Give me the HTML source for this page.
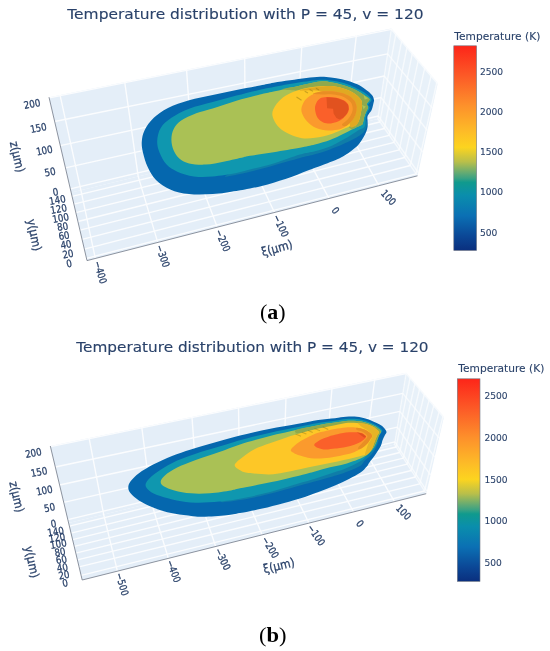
<!DOCTYPE html>
<html lang="en"><head><meta charset="utf-8"><title>Temperature distribution</title>
<style>html,body{margin:0;padding:0;background:#fff}svg{display:block}svg text.t{stroke:#2a426a;stroke-width:.28px}</style></head>
<body>
<svg width="550" height="651" viewBox="0 0 550 651" font-family='"DejaVu Sans", "Liberation Sans", sans-serif' fill="#2a426a">
<defs><linearGradient id="cb" x1="0" y1="0" x2="0" y2="1">
<stop offset="0" stop-color="#fd2519"/>
<stop offset="0.15" stop-color="#fc5b27"/>
<stop offset="0.29" stop-color="#fd902b"/>
<stop offset="0.42" stop-color="#fdbc27"/>
<stop offset="0.496" stop-color="#fcd41f"/>
<stop offset="0.567" stop-color="#b9bf4a"/>
<stop offset="0.628" stop-color="#58a878"/>
<stop offset="0.647" stop-color="#3aa283"/>
<stop offset="0.667" stop-color="#109a8d"/>
<stop offset="0.729" stop-color="#0a8eac"/>
<stop offset="0.83" stop-color="#0b70b4"/>
<stop offset="0.93" stop-color="#0b4796"/>
<stop offset="1" stop-color="#0a2f7e"/>
</linearGradient></defs>
<rect width="550" height="651" fill="#ffffff"/>
<g id="plot-a">
<path d="M49,97.2 L391.4,28.6 L377.8,119 L71.2,192.5Z" fill="#e4eef8"/>
<path d="M71.2,192.5 L377.8,119 L417.5,175.8 L87,260.6Z" fill="#e4eef8"/>
<path d="M391.4,28.6 L437.8,83 L417.5,175.8 L377.8,119Z" fill="#e4eef8" opacity="0.85"/>
<g fill="none" stroke="#ffffff" stroke-width="1.35" stroke-linejoin="round" opacity="0.86"><path d="M49.2,97.9 L391.3,29.3"/><path d="M391.3,29.3 L437.6,83.8" opacity="0.75"/><path d="M54.7,121.5 L387.6,53.9"/><path d="M387.6,53.9 L432.3,108" opacity="0.75"/><path d="M60.3,145.6 L384.3,76"/><path d="M384.3,76 L427.4,130.5" opacity="0.75"/><path d="M65.4,167.8 L381,97.5"/><path d="M381,97.5 L422.7,152" opacity="0.75"/><path d="M70.3,188.9 L378.3,116"/><path d="M378.3,116 L418.2,172.5" opacity="0.75"/><path d="M72.1,196.4 L379.9,122"/><path d="M379.9,122 L395.8,33.8" opacity="0.75"/><path d="M73.9,204.1 L384.4,128.5"/><path d="M384.4,128.5 L401.7,40.7" opacity="0.75"/><path d="M75.9,212.7 L389.2,135.3"/><path d="M389.2,135.3 L407.1,47" opacity="0.75"/><path d="M77.9,221.5 L394.2,142.4"/><path d="M394.2,142.4 L412.4,53.2" opacity="0.75"/><path d="M79.9,230.2 L399.3,149.8"/><path d="M399.3,149.8 L418.3,60.1" opacity="0.75"/><path d="M82.1,239.4 L404.7,157.5"/><path d="M404.7,157.5 L424.8,67.7" opacity="0.75"/><path d="M84.3,249.1 L410.3,165.5"/><path d="M410.3,165.5 L431.2,75.3" opacity="0.75"/><path d="M86.5,258.3 L416.1,173.8"/><path d="M416.1,173.8 L436.9,82" opacity="0.75"/><path d="M60,94.9 L80.9,190.2 L95.3,258.4"/><path d="M124.7,81.9 L138.2,176.4 L157.5,241.6"/><path d="M186.5,69.4 L193.2,163.2 L217,226.4"/><path d="M244.7,57.7 L245.3,150.8 L274.5,212.5"/><path d="M301.8,46.2 L296.7,138.4 L329,198.4"/><path d="M356.4,35.2 L346,126.6 L379.3,186.4"/><path d="M391.4,28.6 L377.8,119 L417.5,175.8" opacity="0.6"/></g>
<path d="M49,97.2 L87,260.6 L417.5,175.8" fill="none" stroke="#6a7180" stroke-width="0.75"/>
<path d="M141.8,141.5 C142.1,137.8 142.6,134.1 144.6,130.2 C146.6,126.2 149.9,121.5 153.8,117.8 C157.7,114.1 162.1,110.8 168,107.9 C173.9,105 181.7,102.5 189.1,100.3 C196.5,98.1 204.8,96.7 212.7,95 C220.6,93.3 228.5,91.7 236.4,90.1 C244.3,88.5 253.8,86.7 260,85.5 C266.2,84.3 268.6,83.7 273.6,82.8 C278.6,81.9 284.5,81.1 290,80.3 C295.5,79.5 301.4,78.6 306.4,78 C311.4,77.4 315.9,76.9 320,76.8 C324.1,76.7 327.3,77 330.9,77.4 C334.5,77.8 338.2,78.5 341.8,79.3 C345.4,80.1 349.4,81.3 352.7,82.5 C356,83.7 358.8,84.9 361.4,86.4 C363.9,87.9 366.2,89.8 368,91.3 C369.8,92.8 371.3,94.1 372.3,95.6 C373.3,97 373.8,98.8 374,100 C374.2,101.2 373.7,101.9 373.5,103 C373.3,104.1 373,105.3 372.7,106.5 C372.4,107.7 372.2,108.8 371.6,110 C371,111.2 369.7,112.6 369,113.8 C368.3,115 367.6,115.7 367.4,116.9 C367.2,118.2 367.6,119.6 367.6,121.3 C367.6,123 367.9,125.1 367.5,127.3 C367.1,129.5 366.4,131.7 365,134.5 C363.6,137.3 361.2,141.3 359,144 C356.8,146.7 354.2,148.6 351.8,150.5 C349.4,152.4 346.9,154.1 344.5,155.6 C342.1,157.1 341.1,157.7 337.3,159.3 C333.5,161 326.2,163.7 321.5,165.5 C316.8,167.3 313.1,168.5 309.1,170 C305.1,171.5 301.2,173.2 297.3,174.7 C293.4,176.2 289.4,177.8 285.5,179.1 C281.6,180.4 277.6,181.5 273.6,182.7 C269.7,183.8 265.7,185 261.8,186 C257.9,187 254.2,187.7 250,188.5 C245.8,189.3 242.6,190.1 236.4,191 C230.2,191.9 220.6,193.6 212.7,194.1 C204.8,194.6 196.2,194.9 189.1,194.1 C182,193.3 175.7,191.8 170.2,189.4 C164.7,187 159.8,183.7 156,179.9 C152.2,176.2 149.9,171.4 147.7,166.9 C145.5,162.4 144,156.9 143,152.7 C142,148.5 141.5,145.2 141.8,141.5Z" fill="#0567ae"/>
<path d="M225,176.5 C225,177.6 241.9,173.6 250,171.8 C258.1,170 265.3,167.8 273.6,165.5 C281.9,163.2 293.1,159.9 300,158 C306.9,156.1 310,155.7 315,154.3 C320,152.9 324.2,151.7 330,149.5 C335.8,147.3 344.7,143.6 350,141 C355.3,138.4 359.3,136.1 362,133.8 C364.7,131.6 365.6,129.6 366.3,127.5 C367.1,125.4 367.4,122.2 366.5,121 C365.6,119.8 363.9,118.5 361,120 C358.1,121.5 354.2,126.7 349,130 C343.8,133.3 338.2,136.7 330,140 C321.8,143.3 309.4,147 300,150 C290.6,153 281.9,155.5 273.6,158 C265.3,160.5 258.1,161.9 250,165 C241.9,168.1 225,175.4 225,176.5Z" fill="#0f7da8"/>
<path d="M157.2,140.9 C157.4,136.8 158.3,131.8 160.7,127.9 C163.1,124.1 166.7,121 171.4,117.8 C176.1,114.6 182.2,111.3 189.1,108.7 C196,106.1 204.8,104.2 212.7,102 C220.6,99.8 228.5,97.6 236.4,95.6 C244.3,93.6 253.8,91.2 260,89.8 C266.2,88.4 267.4,88.2 273.6,87 C279.8,85.8 289.6,84 297.3,82.8 C305,81.6 314.4,80.2 320,79.8 C325.6,79.4 327.3,80 330.9,80.4 C334.5,80.9 338.2,81.5 341.8,82.5 C345.4,83.5 349.4,85 352.7,86.4 C356,87.8 359,89.4 361.4,90.7 C363.8,92 365.2,93.1 366.9,94.5 C368.5,95.9 370.7,97.7 371.3,98.9 C371.9,100.1 371.2,100.6 370.7,101.6 C370.1,102.6 368.2,103.9 368,104.9 C367.8,105.9 369.7,106.3 369.6,107.6 C369.5,108.9 368,111 367.4,112.5 C366.8,114 366.1,115.3 365.8,116.9 C365.5,118.5 365.6,120.6 365.3,122.3 C365,124 365.4,125.9 364.2,127.3 C363,128.7 360.4,129.1 358,130.5 C355.6,131.9 353.3,133.8 350,135.8 C346.7,137.8 341.3,140.8 338,142.6 C334.7,144.4 333.8,145.1 330,146.6 C326.2,148.1 320,150 315,151.3 C310,152.6 306.9,152.6 300,154.6 C293.1,156.6 281.9,161 273.6,163.5 C265.3,166 256.2,168 250,169.6 C243.8,171.2 242.6,171.8 236.4,173 C230.2,174.2 219.8,175.9 212.7,176.5 C205.6,177.1 199.7,177.2 193.8,176.4 C187.9,175.6 181.8,173.7 177.3,171.7 C172.8,169.7 169.6,167.8 166.6,164.6 C163.6,161.4 161.2,156.6 159.6,152.7 C158,148.8 157,145 157.2,140.9Z" fill="#0f97af"/>
<path d="M171.4,139.7 C171.4,136.1 172.1,132.2 173.7,129.1 C175.3,125.9 177.1,123.4 180.8,120.8 C184.6,118.2 190.9,115.3 196.2,113.3 C201.5,111.3 206,110.7 212.7,108.6 C219.4,106.5 228.5,103.1 236.4,100.8 C244.3,98.5 253.8,96.1 260,94.6 C266.2,93.1 267.4,93 273.6,91.6 C279.8,90.2 289.6,87.9 297.3,86.2 C305,84.5 314.4,82.2 320,81.5 C325.6,80.8 327.3,81.7 330.9,82.2 C334.5,82.7 338.2,83.7 341.8,84.7 C345.4,85.8 349.6,87.2 352.7,88.5 C355.8,89.8 358.1,91.1 360.3,92.4 C362.5,93.7 364.2,95 365.8,96.2 C367.4,97.4 369.4,98.1 369.6,99.4 C369.8,100.7 367.2,102.4 366.9,103.8 C366.6,105.2 368.2,106.1 368,107.6 C367.8,109 366.4,111 365.8,112.5 C365.2,114 364.6,115.3 364.2,116.9 C363.8,118.5 363.5,121 363.1,122.3 C362.7,123.6 363.1,124 362,124.8 C360.9,125.6 358.5,126.3 356.5,127.3 C354.5,128.3 352.8,129.2 350,130.6 C347.2,132 343.3,134 340,135.6 C336.7,137.2 334.2,138.5 330,140 C325.8,141.5 320,143.3 315,144.6 C310,145.9 306.9,146.5 300,147.8 C293.1,149.1 281.9,150.9 273.6,152.2 C265.3,153.5 255,155 250,155.8 C245,156.6 247.7,156.3 243.5,157.2 C239.3,158.1 230.9,160.2 224.6,161.4 C218.3,162.6 211.6,164.3 205.7,164.6 C199.8,164.9 193.4,164.4 189.1,163.4 C184.8,162.4 182.2,160.9 179.6,158.7 C177,156.5 175.1,153.6 173.7,150.4 C172.3,147.2 171.4,143.2 171.4,139.7Z" fill="#aac155"/>
<path d="M283,89.5 C280.9,88.5 291.1,87.5 297.3,86.2 C303.5,84.9 314.4,82.2 320,81.5 C325.6,80.8 327.3,81.7 330.9,82.2 C334.5,82.7 338.2,83.7 341.8,84.7 C345.4,85.8 349.6,87.2 352.7,88.5 C355.8,89.8 358.1,91.1 360.3,92.4 C362.5,93.7 364.2,95 365.8,96.2 C367.4,97.4 369.4,98.1 369.6,99.4 C369.8,100.7 367.2,102.4 366.9,103.8 C366.6,105.2 368.2,106.1 368,107.6 C367.8,109 366.4,111 365.8,112.5 C365.2,114 364.6,115.3 364.2,116.9 C363.8,118.5 363.5,121 363.1,122.3 C362.7,123.6 363.1,124 362,124.8 C360.9,125.6 358.3,126.6 356.5,127.3 C354.7,128 352.9,130.2 351,129 C349.1,127.8 346.8,124.8 345,120 C343.2,115.2 345.8,104.7 340,100 C334.2,95.3 319.5,93.8 310,92 C300.5,90.2 285.1,90.5 283,89.5Z" fill="#8fa94c"/>
<path d="M363.6,95.1 L368,98.4 L364.7,99.5Z" fill="#a9c458"/>
<path d="M362,104.9 L365.8,106.5 L363.6,109.3Z" fill="#a9c458"/>
<path d="M353.8,122.3 L357.1,124.5 L354.9,126.7Z" fill="#a9c458"/>
<path d="M272.3,114.5 C272,110.8 274.1,107.4 276.3,104.3 C278.5,101.2 282,98.1 285.5,95.8 C289,93.5 293.4,91.9 297.3,90.5 C301.2,89.1 305.2,88.2 309,87.5 C312.8,86.8 316.4,86.4 320,86.2 C323.6,86 327.3,85.8 330.9,86.1 C334.5,86.4 338.5,87.1 341.8,88 C345.1,88.9 347.9,90 350.5,91.3 C353.1,92.6 355.3,94.1 357.1,95.6 C358.9,97.1 360.6,98.8 361.4,100.5 C362.2,102.2 362.1,104 362,106 C361.9,108 361.3,110.5 360.9,112.5 C360.5,114.5 360.4,116.2 359.8,118 C359.2,119.8 358.7,122.1 357.1,123.5 C355.5,124.9 353.2,125 350,126.3 C346.8,127.6 341.3,130.2 338,131.5 C334.7,132.8 333.8,133.3 330,134.4 C326.2,135.5 319.7,137.2 315,137.8 C310.3,138.4 306.1,138.7 302,138.2 C297.9,137.7 294.1,136.5 290.2,134.6 C286.3,132.7 281.4,130.2 278.4,126.8 C275.4,123.5 272.6,118.2 272.3,114.5Z" fill="#fdc727"/>
<path d="M300,90.5 C298.2,90 305.7,88.7 309,88 C312.3,87.3 316.4,86.7 320,86.4 C323.6,86.1 327.3,85.8 330.9,86.1 C334.5,86.4 338.5,87.1 341.8,88 C345.1,88.9 347.9,90 350.5,91.3 C353.1,92.6 355.3,94.1 357.1,95.6 C358.9,97.1 360.6,98.8 361.4,100.5 C362.2,102.2 362.1,104 362,106 C361.9,108 361.3,110.5 360.9,112.5 C360.5,114.5 360.4,116 359.8,118 C359.2,120 358.6,122.9 357.1,124.5 C355.6,126.1 352.4,127.9 351,127.5 C349.6,127.1 350.8,126.6 349,122 C347.2,117.4 344.8,105.2 340,100 C335.2,94.8 326.7,92.6 320,91 C313.3,89.4 301.8,91 300,90.5Z" fill="#e0a922"/>
<path d="M296.5,97 L301.5,100.2 M304.7,91.2 L308,93 M309.6,89.5 L313,91.3 M316,88.2 L319,90" stroke="#7a6a14" stroke-opacity="0.4" stroke-width="1.1" fill="none"/>
<path d="M301.5,111.5 C300.9,108.5 301.9,105.7 303.2,103.2 C304.5,100.7 306.3,98.4 309.1,96.5 C311.9,94.6 316.7,92.7 320,91.8 C323.3,90.9 325.4,91.2 328.7,91.3 C332,91.4 336.3,91.7 339.6,92.4 C342.9,93.1 346,94.3 348.4,95.6 C350.8,96.9 352.4,98.3 353.8,100 C355.2,101.7 356.1,103.9 356.5,106 C356.9,108.1 356.4,110.5 356,112.5 C355.6,114.5 354.7,116.4 353.8,118 C352.9,119.6 351.8,121 350.5,122.3 C349.2,123.6 347.8,124.8 346,126 C344.2,127.2 342.8,128.5 339.8,129.2 C336.8,129.9 331.9,130.6 328,130.4 C324.1,130.2 319.8,129.6 316.2,128 C312.6,126.4 309.1,123.7 306.7,120.9 C304.2,118.2 302.1,114.5 301.5,111.5Z" fill="#fb9a2d"/>
<path d="M313,94 C312.2,93.5 317.4,92.2 320,91.8 C322.6,91.3 325.4,91.2 328.7,91.3 C332,91.4 336.3,91.7 339.6,92.4 C342.9,93.1 346,94.3 348.4,95.6 C350.8,96.9 352.4,98.3 353.8,100 C355.2,101.7 356.1,103.9 356.5,106 C356.9,108.1 356.4,110.5 356,112.5 C355.6,114.5 354.7,116.4 353.8,118 C352.9,119.6 351.8,121 350.5,122.3 C349.2,123.6 347.4,125.7 346,126 C344.6,126.3 341.8,126.7 342,124 C342.2,121.3 347.3,114.3 347,110 C346.7,105.7 343.7,100.5 340,98 C336.3,95.5 329.5,95.7 325,95 C320.5,94.3 313.8,94.5 313,94Z" fill="#e88e24"/>
<path d="M302.5,111.5 C301.9,108.7 302.9,105.8 304.2,103.5 C305.4,101.2 307.4,99.4 310,98 C312.6,96.6 316.5,95.7 320,95.1 C323.5,94.5 327.6,94.1 330.9,94.2 C334.2,94.3 337.1,94.9 339.6,95.6 C342.2,96.3 344.3,97.2 346.2,98.4 C348.1,99.6 350,101.1 351.1,102.7 C352.2,104.3 352.6,106.4 352.7,108.2 C352.8,110 352.2,112 351.6,113.6 C351,115.2 350,116.6 348.9,118 C347.8,119.4 346.8,120.5 345.1,121.8 C343.5,123 341.9,124.4 339,125.5 C336.1,126.6 331.7,128.2 328,128.4 C324.3,128.6 320.4,127.8 317,126.5 C313.6,125.2 310.1,122.9 307.7,120.4 C305.3,117.9 303.1,114.3 302.5,111.5Z" fill="#fb9a2d"/>
<path d="M315,109.1 C314.8,106.7 315.4,105 316.2,103.2 C317,101.4 318.3,99.5 320,98.5 C321.7,97.5 323.8,97.1 326.5,97 C329.2,96.9 333.5,97.2 336.4,97.8 C339.3,98.4 342.1,99.4 344,100.5 C345.9,101.6 347.3,102.9 348.1,104.4 C348.9,105.9 349,107.8 348.9,109.3 C348.8,110.8 348.2,112.1 347.3,113.6 C346.4,115 344.9,116.7 343.4,118 C341.9,119.3 340.6,120.4 338.5,121.3 C336.4,122.2 333.4,123.2 330.9,123.4 C328.4,123.6 325.6,123.4 323.3,122.4 C321.1,121.4 318.8,119.6 317.4,117.4 C316,115.2 315.2,111.5 315,109.1Z" fill="#fa602a"/>
<path d="M326.5,97.3 L336.4,98 L344,100.8 L348.1,104.7 L348.6,109.3 L347,113.6 L343.4,117.4 L339.6,119.6 L336.4,118 L333.6,113.6 L333.1,108.7 L327.1,108.2 L326.8,102.7Z" fill="#e1521f"/>
<text class="t" x="67.3" y="18.9" font-size="14.6" text-anchor="start" style="stroke-width:.12px" textLength="356.3" lengthAdjust="spacingAndGlyphs">Temperature distribution with P = 45, v = 120</text>
<text class="t" x="32" y="104" font-size="10.2" text-anchor="middle" transform="rotate(-11 32 104)" dy="3.6" textLength="16.6" lengthAdjust="spacingAndGlyphs">200</text>
<text class="t" x="38.4" y="128" font-size="10.2" text-anchor="middle" transform="rotate(-11 38.4 128)" dy="3.6" textLength="16.6" lengthAdjust="spacingAndGlyphs">150</text>
<text class="t" x="44.4" y="150.4" font-size="10.2" text-anchor="middle" transform="rotate(-11 44.4 150.4)" dy="3.6" textLength="16.6" lengthAdjust="spacingAndGlyphs">100</text>
<text class="t" x="50" y="172" font-size="10.2" text-anchor="middle" transform="rotate(-11 50 172)" dy="3.6" textLength="11.1" lengthAdjust="spacingAndGlyphs">50</text>
<text class="t" x="55.6" y="192" font-size="10.2" text-anchor="middle" transform="rotate(-11 55.6 192)" dy="3.6" textLength="5.5" lengthAdjust="spacingAndGlyphs">0</text>
<text class="t" x="57.4" y="200" font-size="10.2" text-anchor="middle" transform="rotate(-10 57.4 200)" dy="3.6" textLength="16.6" lengthAdjust="spacingAndGlyphs">140</text>
<text class="t" x="58.6" y="209" font-size="10.2" text-anchor="middle" transform="rotate(-10 58.6 209)" dy="3.6" textLength="16.6" lengthAdjust="spacingAndGlyphs">120</text>
<text class="t" x="60.6" y="218" font-size="10.2" text-anchor="middle" transform="rotate(-10 60.6 218)" dy="3.6" textLength="16.6" lengthAdjust="spacingAndGlyphs">100</text>
<text class="t" x="62.6" y="226.6" font-size="10.2" text-anchor="middle" transform="rotate(-10 62.6 226.6)" dy="3.6" textLength="11.1" lengthAdjust="spacingAndGlyphs">80</text>
<text class="t" x="64" y="235.6" font-size="10.2" text-anchor="middle" transform="rotate(-10 64 235.6)" dy="3.6" textLength="11.1" lengthAdjust="spacingAndGlyphs">60</text>
<text class="t" x="66" y="244.4" font-size="10.2" text-anchor="middle" transform="rotate(-10 66 244.4)" dy="3.6" textLength="11.1" lengthAdjust="spacingAndGlyphs">40</text>
<text class="t" x="68" y="254" font-size="10.2" text-anchor="middle" transform="rotate(-10 68 254)" dy="3.6" textLength="11.1" lengthAdjust="spacingAndGlyphs">20</text>
<text class="t" x="69" y="263.6" font-size="10.2" text-anchor="middle" transform="rotate(-10 69 263.6)" dy="3.6" textLength="5.5" lengthAdjust="spacingAndGlyphs">0</text>
<text class="t" x="17" y="157" font-size="12.2" text-anchor="middle" transform="rotate(77 17 157)" dy="3.8" textLength="31.6" lengthAdjust="spacingAndGlyphs">z(μm)</text>
<text class="t" x="34" y="235" font-size="12.2" text-anchor="middle" transform="rotate(78 34 235)" dy="3.8" textLength="32.4" lengthAdjust="spacingAndGlyphs">y(μm)</text>
<text class="t" x="100.5" y="272.3" font-size="10.2" text-anchor="middle" transform="rotate(74 100.5 272.3)" dy="3.6" textLength="23.2" lengthAdjust="spacingAndGlyphs">−400</text>
<text class="t" x="162.9" y="256" font-size="10.2" text-anchor="middle" transform="rotate(71 162.9 256)" dy="3.6" textLength="23.2" lengthAdjust="spacingAndGlyphs">−300</text>
<text class="t" x="222.9" y="240.4" font-size="10.2" text-anchor="middle" transform="rotate(67 222.9 240.4)" dy="3.6" textLength="23.2" lengthAdjust="spacingAndGlyphs">−200</text>
<text class="t" x="281" y="225.8" font-size="10.2" text-anchor="middle" transform="rotate(65 281 225.8)" dy="3.6" textLength="23.2" lengthAdjust="spacingAndGlyphs">−100</text>
<text class="t" x="335.5" y="210.4" font-size="10.2" text-anchor="middle" transform="rotate(52 335.5 210.4)" dy="3.6" textLength="5.5" lengthAdjust="spacingAndGlyphs">0</text>
<text class="t" x="388.5" y="197.5" font-size="10.2" text-anchor="middle" transform="rotate(47 388.5 197.5)" dy="3.6" textLength="16.6" lengthAdjust="spacingAndGlyphs">100</text>
<text class="t" x="277" y="248.5" font-size="12.2" text-anchor="middle" transform="rotate(-15.3 277 248.5)" dy="3.8" textLength="31.8" lengthAdjust="spacingAndGlyphs">ξ(μm)</text>
<rect x="453.8" y="45.8" width="22.8" height="204.7" fill="url(#cb)"/>
<rect x="453.8" y="45.8" width="22.8" height="204.7" fill="none" stroke="#737985" stroke-width="0.6"/>
<text class="t" x="454.3" y="39.6" font-size="10.4" text-anchor="start" style="stroke-width:.1px" textLength="86" lengthAdjust="spacingAndGlyphs">Temperature (K)</text>
<text class="t" x="480" y="74.9" font-size="9.1" text-anchor="start" style="stroke-width:.1px">2500</text>
<text class="t" x="480" y="114.7" font-size="9.1" text-anchor="start" style="stroke-width:.1px">2000</text>
<text class="t" x="480" y="154.9" font-size="9.1" text-anchor="start" style="stroke-width:.1px">1500</text>
<text class="t" x="480" y="195.2" font-size="9.1" text-anchor="start" style="stroke-width:.1px">1000</text>
<text class="t" x="480" y="235.7" font-size="9.1" text-anchor="start" style="stroke-width:.1px">500</text>
</g>
<g id="plot-b">
<path d="M50.3,446 L406.2,372.8 L394.5,444.5 L68.6,523Z" fill="#e4eef8"/>
<path d="M68.6,523 L394.5,444.5 L426.2,493.7 L82.2,580Z" fill="#e4eef8"/>
<path d="M406.2,372.8 L444,416.8 L426.2,493.7 L394.5,444.5Z" fill="#e4eef8" opacity="0.85"/>
<g fill="none" stroke="#ffffff" stroke-width="1.35" stroke-linejoin="round" opacity="0.86"><path d="M50.5,446.7 L406.1,373.5"/><path d="M406.1,373.5 L443.8,417.5" opacity="0.75"/><path d="M55.3,467 L402.8,393.4"/><path d="M402.8,393.4 L439.1,438" opacity="0.75"/><path d="M59.6,485 L399.9,411.3"/><path d="M399.9,411.3 L434.7,457" opacity="0.75"/><path d="M63.7,502.4 L397.3,427.2"/><path d="M397.3,427.2 L430.5,475" opacity="0.75"/><path d="M67.8,519.6 L394.9,441.8"/><path d="M394.9,441.8 L426.8,491" opacity="0.75"/><path d="M69.4,526.2 L396.1,447"/><path d="M396.1,447 L410.2,377.4" opacity="0.75"/><path d="M71.1,533.2 L399.7,452.5"/><path d="M399.7,452.5 L415,383" opacity="0.75"/><path d="M72.6,539.6 L403.3,458.2"/><path d="M403.3,458.2 L419.7,388.5" opacity="0.75"/><path d="M74.2,546.3 L407.2,464.2"/><path d="M407.2,464.2 L424.4,394" opacity="0.75"/><path d="M75.8,553.1 L411.3,470.5"/><path d="M411.3,470.5 L429.2,399.6" opacity="0.75"/><path d="M77.4,559.9 L415.4,477"/><path d="M415.4,477 L433.9,405.1" opacity="0.75"/><path d="M79.1,566.9 L419.8,483.8"/><path d="M419.8,483.8 L439.3,411.3" opacity="0.75"/><path d="M81.1,575.3 L424.5,491"/><path d="M424.5,491 L443.1,415.8" opacity="0.75"/><path d="M89.1,438.2 L103.7,514.6 L117.3,570.7"/><path d="M141.8,427.3 L151.5,503 L168.2,557.8"/><path d="M192,417.1 L197.3,492 L215.5,546"/><path d="M238.5,407.3 L239.8,481.8 L262,534.6"/><path d="M286,397.5 L283.4,471.3 L309,523"/><path d="M332,388 L325.8,461 L353.5,511.8"/><path d="M374.8,379.2 L365.4,451.5 L394.5,501.6"/><path d="M406.2,372.8 L394.5,444.5 L426.2,493.7" opacity="0.6"/></g>
<path d="M50.3,446 L82.2,580 L426.2,493.7" fill="none" stroke="#6a7180" stroke-width="0.75"/>
<path d="M128.3,487.4 C128.3,485.4 128.8,483.7 130.6,481.3 C132.4,478.9 135.2,476 138.9,473.2 C142.7,470.4 147.6,467.4 153.1,464.5 C158.6,461.6 165.7,458.4 172,455.9 C178.3,453.4 183.8,451.6 190.9,449.4 C198,447.2 206.4,444.8 214.6,442.5 C222.8,440.2 230.9,437.9 240,435.6 C249.1,433.4 259.4,431 269.1,429 C278.8,427 290,425.3 298.2,423.8 C306.4,422.3 312.1,420.9 318.2,420 C324.3,419.1 330.4,418.7 335,418.2 C339.6,417.7 342.3,417 345.9,416.8 C349.5,416.6 353.5,416.5 356.8,416.8 C360.1,417.1 362.8,417.8 365.5,418.6 C368.2,419.4 370.8,420.4 373.2,421.4 C375.6,422.4 377.9,423.5 379.7,424.6 C381.5,425.7 383,426.7 384.1,427.9 C385.2,429.1 386.4,430.6 386.5,431.9 C386.6,433.2 385.2,434.3 384.6,435.7 C384,437.1 383.2,438.5 382.6,440.1 C382,441.7 381.8,443.7 381,445.5 C380.2,447.3 378.9,449.1 377.7,451 C376.5,452.9 375.4,454.7 374,456.6 C372.6,458.5 370.8,460.6 369.6,462.2 C368.4,463.8 368.3,464.8 366.8,466.5 C365.3,468.2 363.5,470.5 360.5,472.6 C357.5,474.7 353.2,476.8 349,479 C344.8,481.2 340.1,483.4 335,485.6 C329.9,487.8 324.3,489.9 318.5,492 C312.7,494.1 306.8,496.4 300,498.5 C293.2,500.6 284.9,502.8 277.8,504.7 C270.7,506.6 263.8,508.2 257.5,509.6 C251.2,511 245.2,512 240,513 C234.8,514 232.6,514.7 226.4,515.3 C220.2,515.9 209.8,516.8 202.7,516.8 C195.6,516.8 189.7,515.8 183.8,515 C177.9,514.2 172.4,513.5 167.3,512.2 C162.2,511 157.8,509.5 153.1,507.5 C148.4,505.5 142.7,502.8 138.9,500.4 C135.2,498 132.4,495.5 130.6,493.3 C128.8,491.1 128.3,489.4 128.3,487.4Z" fill="#0567ae"/>
<path d="M225,502 C230.8,501.4 247.5,499 260,496.3 C272.5,493.6 288.3,488.8 300,485.6 C311.7,482.4 322.5,479.5 330,477.3 C337.5,475.1 340,474.5 345,472.6 C350,470.7 356.8,467.9 360,466 C363.2,464.1 362.8,462.5 364.4,460.9 C366,459.3 368.2,458 369.9,456.3 C371.5,454.6 373.1,452.6 374.3,450.8 C375.5,449 376.3,447.1 377,445.3 C377.7,443.5 379.1,440.1 378.6,439.9 C378.1,439.7 375.8,442 374,444 C372.2,446 370.3,449.5 368,452 C365.7,454.5 363.8,456.7 360,459 C356.2,461.3 350,464 345,466 C340,468 337.5,468.7 330,471 C322.5,473.3 311.7,476.5 300,480 C288.3,483.5 272.5,488.7 260,492 C247.5,495.3 230.8,498.3 225,500 C219.2,501.7 219.2,502.6 225,502Z" fill="#0f7da8"/>
<path d="M145.5,485 C145.5,482.9 147.2,480.7 149.6,478.2 C152,475.7 155.7,472.9 160.2,470 C164.7,467.1 170.8,463.5 176.7,460.8 C182.6,458.1 188.6,456.1 195.7,453.7 C202.8,451.3 211.9,448.8 219.3,446.6 C226.7,444.4 231.7,442.6 240,440.3 C248.3,438 259.4,435.1 269.1,432.9 C278.8,430.7 290,428.5 298.2,426.9 C306.4,425.2 312.1,424 318.2,423 C324.3,422 330.4,421.5 335,420.8 C339.6,420.1 342.3,419.3 345.9,419 C349.5,418.7 353.5,418.7 356.8,419 C360.1,419.3 362.8,420 365.5,420.8 C368.2,421.6 371,422.8 373.2,423.8 C375.4,424.8 377.1,425.6 378.6,426.8 C380.1,428 382.1,429.5 382.3,430.8 C382.5,432.1 380.8,432.9 380,434.4 C379.2,435.9 378.4,438.1 377.8,439.9 C377.2,441.7 377.1,443.6 376.2,445.3 C375.3,447 374.2,448.7 372.7,450.3 C371.2,451.9 369.5,453.3 367.4,455.2 C365.3,457.1 363.7,459.3 360,461.6 C356.3,463.9 350,466.8 345,468.8 C340,470.8 335,472.1 330,473.8 C325,475.5 320,477.2 315,478.8 C310,480.4 307.6,480.9 300,483.1 C292.4,485.4 279.1,489.7 269.1,492.3 C259.1,494.9 248.3,497.1 240,498.7 C231.7,500.2 226.7,500.9 219.3,501.6 C211.9,502.3 202.8,502.9 195.7,502.7 C188.6,502.5 182.6,501.5 176.7,500.4 C170.8,499.3 164.7,497.7 160.2,496.1 C155.7,494.5 152,492.8 149.6,490.9 C147.2,489 145.5,487.1 145.5,485Z" fill="#0f97af"/>
<path d="M160.7,481.5 C160.9,479.7 162.2,477.7 164.9,475.4 C167.6,473.1 171.6,470.4 176.7,467.8 C181.8,465.2 188.6,462.6 195.7,460 C202.8,457.4 211.9,454.6 219.3,452 C226.7,449.4 231.7,447 240,444.4 C248.3,441.8 259.4,438.8 269.1,436.3 C278.8,433.8 290,431.5 298.2,429.6 C306.4,427.8 312.1,426.4 318.2,425.2 C324.3,424 330.4,423.3 335,422.6 C339.6,421.9 342.3,421.3 345.9,421 C349.5,420.7 353.5,420.8 356.8,421 C360.1,421.2 362.9,421.8 365.5,422.5 C368.1,423.2 370.3,424.2 372.4,425.1 C374.4,426.1 376.4,427.1 377.8,428.2 C379.2,429.3 380.8,430.3 381,431.5 C381.2,432.7 379.5,433.9 378.8,435.5 C378.1,437.1 377.5,439.2 376.7,441 C375.9,442.8 375.2,444.8 374.2,446.5 C373.2,448.2 372.1,450 370.7,451.5 C369.3,453 367.8,454.3 366,455.5 C364.2,456.7 363.5,457.4 360,458.8 C356.5,460.2 350,462.6 345,464 C340,465.4 335,466.1 330,467.3 C325,468.6 320,470.1 315,471.5 C310,472.9 307.6,473.5 300,475.4 C292.4,477.2 279.1,480.5 269.1,482.6 C259.1,484.8 246.3,487 240,488.3 C233.7,489.6 236.1,489.6 231.1,490.4 C226.1,491.2 216.5,492.7 209.8,493.2 C203.1,493.7 196.8,493.8 190.9,493.3 C185,492.8 178.9,491.6 174.4,490.4 C169.9,489.2 166,487.7 163.7,486.2 C161.4,484.7 160.5,483.3 160.7,481.5Z" fill="#aac155"/>
<path d="M296,430 C299,428.5 311.7,426.4 318.2,425.2 C324.7,424 330.4,423.3 335,422.6 C339.6,421.9 342.3,421.3 345.9,421 C349.5,420.7 353.5,420.8 356.8,421 C360.1,421.2 362.9,421.8 365.5,422.5 C368.1,423.2 370.3,424.2 372.4,425.1 C374.4,426.1 376.4,427.1 377.8,428.2 C379.2,429.3 380.8,430.3 381,431.5 C381.2,432.7 379.5,433.9 378.8,435.5 C378.1,437.1 377.5,439.2 376.7,441 C375.9,442.8 375.2,444.8 374.2,446.5 C373.2,448.2 372.1,450 370.7,451.5 C369.3,453 367.3,455.4 366,455.5 C364.7,455.6 362.4,454.6 363,452 C363.6,449.4 368.2,443.2 369.7,440 C371.2,436.8 373.8,434.9 372.2,432.8 C370.6,430.7 365.4,428.2 360,427.2 C354.6,426.2 347,426.4 340,427 C333,427.6 324.7,429.3 318,430.5 C311.3,431.7 303.7,434.1 300,434 C296.3,433.9 293,431.5 296,430Z" fill="#8fa94c"/>
<path d="M234.7,464.9 C235.1,462.6 239.6,459.5 242.9,456.9 C246.2,454.3 250.1,451.4 254.5,449.2 C258.9,447 264.2,445.4 269.1,443.6 C274,441.8 278.8,440 283.6,438.4 C288.5,436.8 292.4,435.4 298.2,433.8 C304,432.2 312.1,430 318.2,428.6 C324.3,427.2 330.4,426.1 335,425.2 C339.6,424.3 342.3,423.4 345.9,423 C349.5,422.6 353.5,422.8 356.8,423 C360.1,423.2 363,423.6 365.5,424.1 C368,424.7 370.1,425.4 372,426.3 C373.9,427.2 375.6,428.5 376.7,429.5 C377.9,430.5 378.9,431.1 378.9,432.3 C378.9,433.5 377.4,435 376.7,436.6 C376,438.2 375.3,440.1 374.5,442.1 C373.7,444.1 373.1,446.6 372,448.6 C370.9,450.6 369.6,452.8 367.6,454.1 C365.6,455.4 363.8,455.2 360,456.2 C356.2,457.1 350,458.7 345,459.8 C340,460.9 335,462 330,463 C325,464 320,465 315,466 C310,467 305.2,468.1 300,469.2 C294.8,470.3 289.1,471.5 284,472.4 C278.9,473.3 275,474.3 269.1,474.4 C263.2,474.5 253.4,473.6 248.7,473 C243.9,472.4 242.9,471.9 240.6,470.5 C238.3,469.1 234.3,467.2 234.7,464.9Z" fill="#fdc727"/>
<path d="M358,423 C358.6,422.5 363.2,423.6 365.5,424.1 C367.8,424.7 370.1,425.4 372,426.3 C373.9,427.2 375.6,428.5 376.7,429.5 C377.9,430.5 378.9,431.1 378.9,432.3 C378.9,433.5 377.4,435 376.7,436.6 C376,438.2 375.3,440.1 374.5,442.1 C373.7,444.1 373.1,446.6 372,448.6 C370.9,450.6 368.8,453 367.6,454.1 C366.4,455.2 365,456.5 365,455 C365,453.5 366.6,448.2 367.8,445 C369,441.8 372.3,438.4 372.3,436 C372.3,433.6 369.5,432 367.8,430.5 C366.1,429 363.6,428.2 362,427 C360.4,425.8 357.4,423.5 358,423Z" fill="#e6b426"/>
<path d="M295.5,434.1 L301,436.3 M301.8,432.3 L306.4,434.1 M308.2,430.5 L312.7,432.6 M314.5,428.6 L320,430.8 M322.7,426.8 L328.2,429.5" stroke="#7a6a14" stroke-opacity="0.35" stroke-width="1.1" fill="none"/>
<path d="M290.9,449.8 C291.6,448.1 295.2,445 298.2,442.8 C301.2,440.6 305.8,438.3 309.1,436.6 C312.4,434.9 314.9,433.9 318.2,432.8 C321.5,431.7 326.3,430.9 329.1,430.2 C331.9,429.5 332.2,429.4 335,428.9 C337.8,428.4 342.3,427.6 345.9,427.4 C349.5,427.2 353.7,427.3 356.8,427.7 C359.9,428.1 362.3,428.6 364.5,429.5 C366.7,430.4 368.6,431.7 369.9,432.8 C371.2,433.9 372.1,434.9 372.1,436.1 C372.1,437.3 370.8,438.5 369.9,439.9 C369,441.3 368.1,442.9 366.6,444.3 C365.2,445.8 363.2,447.3 361.2,448.6 C359.2,449.9 357.2,450.9 354.6,451.9 C352.1,452.9 349.2,453.8 345.9,454.6 C342.6,455.4 338.7,456.2 335,456.8 C331.3,457.4 327.6,458.1 323.6,458.3 C319.6,458.5 314.8,458.6 310.9,458.2 C307,457.8 302.9,456.5 300,455.6 C297.1,454.7 295.3,454 293.8,453 C292.3,452 290.2,451.5 290.9,449.8Z" fill="#fb9a2d"/>
<path d="M356.8,427.7 C358.1,427.6 362.3,428.6 364.5,429.5 C366.7,430.4 368.6,431.7 369.9,432.8 C371.2,433.9 372.1,434.9 372.1,436.1 C372.1,437.3 370.8,438.5 369.9,439.9 C369,441.3 368.1,442.9 366.6,444.3 C365.2,445.8 362.6,448 361.2,448.6 C359.8,449.2 357.5,449.3 358,448 C358.5,446.7 362.4,442.9 364,441 C365.6,439.1 367.7,437.8 367.5,436.3 C367.3,434.8 364.8,433.1 363,432 C361.2,430.9 358,430.7 357,430 C356,429.3 355.6,427.8 356.8,427.7Z" fill="#e88e24"/>
<path d="M314.2,444.7 C314.5,443.4 317.5,441.4 320,440 C322.5,438.6 326.6,437.3 329.1,436.4 C331.6,435.5 332.2,435.4 335,434.8 C337.8,434.2 342.3,432.9 345.9,432.5 C349.5,432.1 354.1,432.1 356.8,432.3 C359.5,432.5 360.8,432.9 362.3,433.6 C363.9,434.3 365.9,435.6 366.1,436.6 C366.3,437.7 364.8,438.8 363.4,439.9 C362,441 360.1,442.2 357.9,443.2 C355.7,444.2 353,445.1 350.3,445.9 C347.6,446.6 344.1,447.2 341.5,447.7 C338.9,448.1 337.7,448.3 335,448.6 C332.3,448.9 328.3,449.7 325.5,449.6 C322.7,449.5 320.1,448.8 318.2,448 C316.3,447.2 313.9,446 314.2,444.7Z" fill="#fa602a"/>
<path d="M356.8,432.3 L362.3,433.6 L366.1,436.6 L364.4,437.7 L361.2,435.5Z" fill="#e1521f"/>
<text class="t" x="76.3" y="351.7" font-size="14.5" text-anchor="start" style="stroke-width:.12px" textLength="352.3" lengthAdjust="spacingAndGlyphs">Temperature distribution with P = 45, v = 120</text>
<text class="t" x="33.4" y="453" font-size="10.2" text-anchor="middle" transform="rotate(-11 33.4 453)" dy="3.6" textLength="16.6" lengthAdjust="spacingAndGlyphs">200</text>
<text class="t" x="39" y="472" font-size="10.2" text-anchor="middle" transform="rotate(-11 39 472)" dy="3.6" textLength="16.6" lengthAdjust="spacingAndGlyphs">150</text>
<text class="t" x="44.4" y="490.4" font-size="10.2" text-anchor="middle" transform="rotate(-11 44.4 490.4)" dy="3.6" textLength="16.6" lengthAdjust="spacingAndGlyphs">100</text>
<text class="t" x="49.6" y="507.6" font-size="10.2" text-anchor="middle" transform="rotate(-11 49.6 507.6)" dy="3.6" textLength="11.1" lengthAdjust="spacingAndGlyphs">50</text>
<text class="t" x="53.6" y="523.6" font-size="10.2" text-anchor="middle" transform="rotate(-11 53.6 523.6)" dy="3.6" textLength="5.5" lengthAdjust="spacingAndGlyphs">0</text>
<text class="t" x="55.6" y="531.6" font-size="10.2" text-anchor="middle" transform="rotate(-10 55.6 531.6)" dy="3.6" textLength="16.6" lengthAdjust="spacingAndGlyphs">140</text>
<text class="t" x="57" y="537.6" font-size="10.2" text-anchor="middle" transform="rotate(-10 57 537.6)" dy="3.6" textLength="16.6" lengthAdjust="spacingAndGlyphs">120</text>
<text class="t" x="58.4" y="544" font-size="10.2" text-anchor="middle" transform="rotate(-10 58.4 544)" dy="3.6" textLength="16.6" lengthAdjust="spacingAndGlyphs">100</text>
<text class="t" x="60" y="552" font-size="10.2" text-anchor="middle" transform="rotate(-10 60 552)" dy="3.6" textLength="11.1" lengthAdjust="spacingAndGlyphs">80</text>
<text class="t" x="61.4" y="559.6" font-size="10.2" text-anchor="middle" transform="rotate(-10 61.4 559.6)" dy="3.6" textLength="11.1" lengthAdjust="spacingAndGlyphs">60</text>
<text class="t" x="62.4" y="567.6" font-size="10.2" text-anchor="middle" transform="rotate(-10 62.4 567.6)" dy="3.6" textLength="11.1" lengthAdjust="spacingAndGlyphs">40</text>
<text class="t" x="64" y="575" font-size="10.2" text-anchor="middle" transform="rotate(-10 64 575)" dy="3.6" textLength="11.1" lengthAdjust="spacingAndGlyphs">20</text>
<text class="t" x="65" y="583" font-size="10.2" text-anchor="middle" transform="rotate(-10 65 583)" dy="3.6" textLength="5.5" lengthAdjust="spacingAndGlyphs">0</text>
<text class="t" x="16.4" y="497" font-size="12.2" text-anchor="middle" transform="rotate(77 16.4 497)" dy="3.8" textLength="31.6" lengthAdjust="spacingAndGlyphs">z(μm)</text>
<text class="t" x="31.6" y="562" font-size="12.2" text-anchor="middle" transform="rotate(78 31.6 562)" dy="3.8" textLength="32.4" lengthAdjust="spacingAndGlyphs">y(μm)</text>
<text class="t" x="122.2" y="584.2" font-size="10.2" text-anchor="middle" transform="rotate(74 122.2 584.2)" dy="3.6" textLength="23.2" lengthAdjust="spacingAndGlyphs">−500</text>
<text class="t" x="173.7" y="571.2" font-size="10.2" text-anchor="middle" transform="rotate(69 173.7 571.2)" dy="3.6" textLength="23.2" lengthAdjust="spacingAndGlyphs">−400</text>
<text class="t" x="222.7" y="559" font-size="10.2" text-anchor="middle" transform="rotate(64 222.7 559)" dy="3.6" textLength="23.2" lengthAdjust="spacingAndGlyphs">−300</text>
<text class="t" x="270.4" y="547.3" font-size="10.2" text-anchor="middle" transform="rotate(59 270.4 547.3)" dy="3.6" textLength="23.2" lengthAdjust="spacingAndGlyphs">−200</text>
<text class="t" x="316.3" y="535" font-size="10.2" text-anchor="middle" transform="rotate(55.7 316.3 535)" dy="3.6" textLength="23.2" lengthAdjust="spacingAndGlyphs">−100</text>
<text class="t" x="360" y="523.5" font-size="10.2" text-anchor="middle" transform="rotate(50 360 523.5)" dy="3.6" textLength="5.5" lengthAdjust="spacingAndGlyphs">0</text>
<text class="t" x="403.6" y="512.2" font-size="10.2" text-anchor="middle" transform="rotate(46 403.6 512.2)" dy="3.6" textLength="16.6" lengthAdjust="spacingAndGlyphs">100</text>
<text class="t" x="279" y="566" font-size="12.2" text-anchor="middle" transform="rotate(-13 279 566)" dy="3.8" textLength="31.8" lengthAdjust="spacingAndGlyphs">ξ(μm)</text>
<rect x="457.3" y="378.8" width="22.7" height="202.6" fill="url(#cb)"/>
<rect x="457.3" y="378.8" width="22.7" height="202.6" fill="none" stroke="#737985" stroke-width="0.6"/>
<text class="t" x="458.3" y="372.4" font-size="10.4" text-anchor="start" style="stroke-width:.1px" textLength="86" lengthAdjust="spacingAndGlyphs">Temperature (K)</text>
<text class="t" x="484.5" y="398.6" font-size="9.1" text-anchor="start" style="stroke-width:.1px">2500</text>
<text class="t" x="484.5" y="440.6" font-size="9.1" text-anchor="start" style="stroke-width:.1px">2000</text>
<text class="t" x="484.5" y="482.7" font-size="9.1" text-anchor="start" style="stroke-width:.1px">1500</text>
<text class="t" x="484.5" y="524.4" font-size="9.1" text-anchor="start" style="stroke-width:.1px">1000</text>
<text class="t" x="484.5" y="566.1" font-size="9.1" text-anchor="start" style="stroke-width:.1px">500</text>
</g>
<text x="272.7" y="319.3" font-family='"Liberation Serif", "DejaVu Serif", serif' font-size="21.5" fill="#000" text-anchor="middle" textLength="25.6" lengthAdjust="spacingAndGlyphs">(<tspan font-weight="bold">a</tspan>)</text>
<text x="272.7" y="641.9" font-family='"Liberation Serif", "DejaVu Serif", serif' font-size="21.5" fill="#000" text-anchor="middle" textLength="27.6" lengthAdjust="spacingAndGlyphs">(<tspan font-weight="bold">b</tspan>)</text>
</svg>
</body></html>
